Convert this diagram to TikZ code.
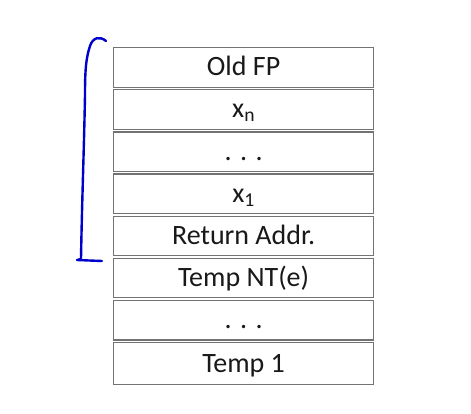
\documentclass[tikz,border=0pt]{standalone}
\usepackage{fontspec}
\setmainfont{Carlito}
\begin{document}
\begin{tikzpicture}[x=1pt,y=-1pt,
  cell/.style={draw=black!55, line width=1.2pt, fill=white, minimum width=260pt, minimum height=39.5pt, inner sep=0pt, text height=20pt, text depth=3pt, font=\fontsize{28}{32}\selectfont, text=black!90, anchor=north west},
  brace/.style={draw=blue!80!black, line width=2.4pt, line cap=round, line join=round}]
\useasboundingbox (0,0) rectangle (471,413);
\node[cell] (r1) at (113,47.0) {Old FP};
\node[cell] (r2) at (113,89.1) {x\textsubscript{n}};
\node[cell] (r3) at (113,131.3) {. . .};
\node[cell] (r4) at (113,173.4) {x\textsubscript{1}};
\node[cell] (r5) at (113,215.6) {Return Addr.};
\node[cell] (r6) at (113,257.7) {Temp NT(e)};
\node[cell] (r7) at (113,299.9) {. . .};
\node[cell, minimum height=42pt] (r8) at (113,342.0) {Temp 1};
\draw[brace] (106,41) .. controls (100,36) and (93,37) .. (90,46)
  .. controls (86,58) and (85,70) .. (85,95)
  .. controls (84,150) and (82,200) .. (81,259)
  -- (77,260) -- (102,261);
\end{tikzpicture}
\end{document}
